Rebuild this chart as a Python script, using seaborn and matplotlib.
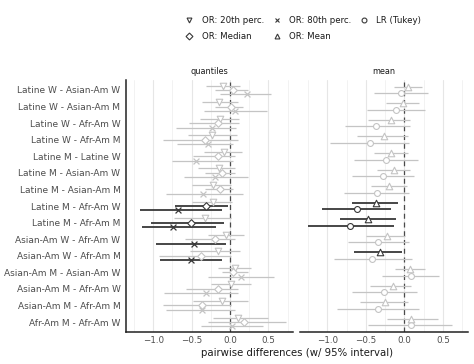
import numpy as np
import pandas as pd
import matplotlib
matplotlib.use("Agg")
import matplotlib.pyplot as plt
import seaborn as sns
from matplotlib.lines import Line2D

categories = [
    "Latine W - Asian-Am W", "Latine W - Asian-Am M", "Latine W - Afr-Am W",
    "Latine W - Afr-Am M", "Latine M - Latine W", "Latine M - Asian-Am W",
    "Latine M - Asian-Am M", "Latine M - Afr-Am W", "Latine M - Afr-Am M",
    "Asian-Am W - Afr-Am W", "Asian-Am W - Afr-Am M", "Asian-Am M - Asian-Am W",
    "Asian-Am M - Afr-Am W", "Asian-Am M - Afr-Am M", "Afr-Am M - Afr-Am W",
]

# quantiles panel
q20_est = [-0.09, -0.14, -0.13, -0.24, -0.08, -0.14, -0.22, -0.22, -0.33, -0.05, -0.16, 0.06, 0.01, -0.10, 0.10]
q20_lo = [-0.31, -0.37, -0.39, -0.55, -0.34, -0.42, -0.50, -0.50, -0.73, -0.29, -0.52, -0.16, -0.25, -0.48, -0.22]
q20_hi = [0.13, 0.10, 0.12, 0.09, 0.16, 0.06, 0.01, 0.02, 0.01, 0.18, 0.13, 0.27, 0.27, 0.23, 0.50]

med_est = [0.04, 0.01, -0.15, -0.33, -0.16, -0.11, -0.13, -0.31, -0.51, -0.20, -0.38, 0.04, -0.16, -0.36, 0.18]
med_lo = [-0.20, -0.19, -0.54, -0.87, -0.48, -0.33, -0.33, -0.72, -1.03, -0.58, -0.92, -0.11, -0.57, -0.87, -0.29]
med_hi = [0.24, 0.17, 0.12, 0.10, 0.06, 0.06, 0.04, -0.03, -0.08, 0.06, 0.01, 0.23, 0.10, 0.01, 0.73]

q80_est = [0.22, 0.07, -0.24, -0.29, -0.44, -0.20, -0.35, -0.68, -0.74, -0.47, -0.51, 0.15, -0.31, -0.36, 0.03]
q80_lo = [-0.13, -0.34, -0.70, -0.69, -0.76, -0.60, -0.83, -1.17, -1.14, -0.96, -0.91, -0.29, -0.86, -0.83, -0.38]
q80_hi = [0.54, 0.48, 0.08, 0.04, 0.04, 0.23, 0.17, -0.11, -0.18, -0.05, -0.10, 0.58, 0.10, 0.06, 0.43]

# mean panel
mean_est = [0.05, -0.02, -0.18, -0.27, -0.18, -0.13, -0.20, -0.37, -0.47, -0.22, -0.32, 0.07, -0.15, -0.25, 0.09]
mean_lo = [-0.14, -0.24, -0.47, -0.62, -0.39, -0.35, -0.43, -0.68, -0.83, -0.50, -0.65, -0.12, -0.45, -0.58, -0.23]
mean_hi = [0.23, 0.19, 0.07, 0.04, 0.04, 0.07, 0.03, -0.08, -0.11, 0.01, -0.03, 0.27, 0.09, 0.04, 0.44]

lr_est = [-0.04, -0.11, -0.37, -0.45, -0.24, -0.28, -0.36, -0.62, -0.71, -0.34, -0.42, 0.08, -0.26, -0.34, 0.09]
lr_lo = [-0.39, -0.49, -0.77, -0.97, -0.65, -0.68, -0.79, -1.07, -1.25, -0.73, -0.92, -0.29, -0.68, -0.87, -0.47]
lr_hi = [0.31, 0.27, 0.07, 0.06, 0.17, 0.12, 0.06, -0.17, -0.14, 0.06, 0.10, 0.45, 0.16, 0.19, 0.62]

stat_markers = {"OR: 20th perc.": "v", "OR: Median": "D", "OR: 80th perc.": "x",
                "OR: Mean": "^", "LR (Tukey)": "o"}
stat_msize = {"OR: 20th perc.": 22, "OR: Median": 15, "OR: 80th perc.": 18,
              "OR: Mean": 22, "LR (Tukey)": 18}

rows = []
for panel, stats in [("quantiles", [("OR: 20th perc.", q20_est, q20_lo, q20_hi),
                                      ("OR: Median", med_est, med_lo, med_hi),
                                      ("OR: 80th perc.", q80_est, q80_lo, q80_hi)]),
                     ("mean", [("OR: Mean", mean_est, mean_lo, mean_hi),
                               ("LR (Tukey)", lr_est, lr_lo, lr_hi)])]:
    n = len(stats)
    width = 0.8
    for k, (name, est, lo, hi) in enumerate(stats):
        off = (k - (n - 1) / 2) * width / n
        for i, cat in enumerate(categories):
            rows.append(dict(panel=panel, stat=name, category=cat, est=est[i],
                             lo=lo[i], hi=hi[i], ypos=i + off))
df = pd.DataFrame(rows)
df["sig"] = (df["hi"] < 0) | (df["lo"] > 0)

sns.set_theme(style="white")
plt.rcParams["font.family"] = ["DejaVu Sans"]

DARK = "#383838"
LIGHT = "#c4c4c4"

fig = plt.figure(figsize=(4.74, 3.64), dpi=100)
bottom = 1 - 332 / 364
height = 252 / 364
ax1 = fig.add_axes([126 / 474, bottom, 167.3 / 474, height])
ax2 = fig.add_axes([300 / 474, bottom, 168 / 474, height])

for ax, panel in [(ax1, "quantiles"), (ax2, "mean")]:
    sub = df[df["panel"] == panel]
    ax.axvline(0, color="#4a4a4a", lw=0.9, ls=(0, (4, 3)), zorder=1)
    for sig, col, lw in [(False, LIGHT, 0.9), (True, DARK, 1.3)]:
        s = sub[sub["sig"] == sig]
        ax.hlines(s["ypos"], s["lo"], s["hi"], colors=col, lw=lw, zorder=2 + sig)
        for stat, g in s.groupby("stat"):
            m = stat_markers[stat]
            if m == "x":
                sns.scatterplot(data=g, x="est", y="ypos", marker=m, color=col,
                                s=stat_msize[stat], linewidth=0.9, ax=ax,
                                legend=False, zorder=4 + sig)
            else:
                sns.scatterplot(data=g, x="est", y="ypos", marker=m, color=col,
                                facecolor="white", edgecolor=col,
                                s=stat_msize[stat], linewidth=0.8, ax=ax,
                                legend=False, zorder=4 + sig)
    ax.set_xlim(-1.355, 0.825)
    ax.set_ylim(len(categories) - 0.4, -0.6)
    ax.set_xticks([-1.0, -0.5, 0.0, 0.5])
    ax.set_xticks([-1.25, -0.75, -0.25, 0.25, 0.75], minor=True)
    ax.grid(axis="x", which="major", color="#e6e6e6", lw=0.8, zorder=0)
    ax.grid(axis="x", which="minor", color="#f0f0f0", lw=0.6, zorder=0)
    ax.grid(axis="y", visible=False)
    ax.set_axisbelow(True)
    ax.set_xlabel("")
    ax.set_ylabel("")
    ax.set_title(panel, fontsize=5.9, color="#1a1a1a", pad=4)
    ax.tick_params(axis="x", labelsize=6.3, labelcolor="#4d4d4d", length=0, pad=3)
    for sp in ["top", "right"]:
        ax.spines[sp].set_visible(False)
    ax.spines["bottom"].set_color("#222222")
    ax.spines["bottom"].set_linewidth(1.1)

ax1.set_yticks(range(len(categories)))
ax1.set_yticklabels(categories)
ax1.tick_params(axis="y", labelsize=6.5, labelcolor="#4d4d4d", length=0, pad=4)
ax1.spines["left"].set_color("#222222")
ax1.spines["left"].set_linewidth(1.1)
ax2.spines["left"].set_visible(False)
ax2.set_yticks([])

fig.text(297 / 474, 1 - 353 / 364, "pairwise differences (w/ 95% interval)",
         ha="center", va="center", fontsize=7.3, color="#1a1a1a")

handles = []
for lab in ["OR: 20th perc.", "OR: Median", "OR: 80th perc.", "OR: Mean", "LR (Tukey)"]:
    m = stat_markers[lab]
    handles.append(Line2D([], [], ls="none", marker=m, markersize=3.5,
                          markerfacecolor="white" if m != "x" else DARK,
                          markeredgecolor=DARK, markeredgewidth=0.8, label=lab))
fig.legend(handles=handles, ncol=3, loc="center", bbox_to_anchor=(303 / 474, 1 - 28.5 / 364),
           frameon=False, fontsize=6.2, handletextpad=0.9, columnspacing=1.0,
           labelspacing=0.75, handlelength=1.0, labelcolor="#1a1a1a")

fig.savefig("out.png", dpi=100)
